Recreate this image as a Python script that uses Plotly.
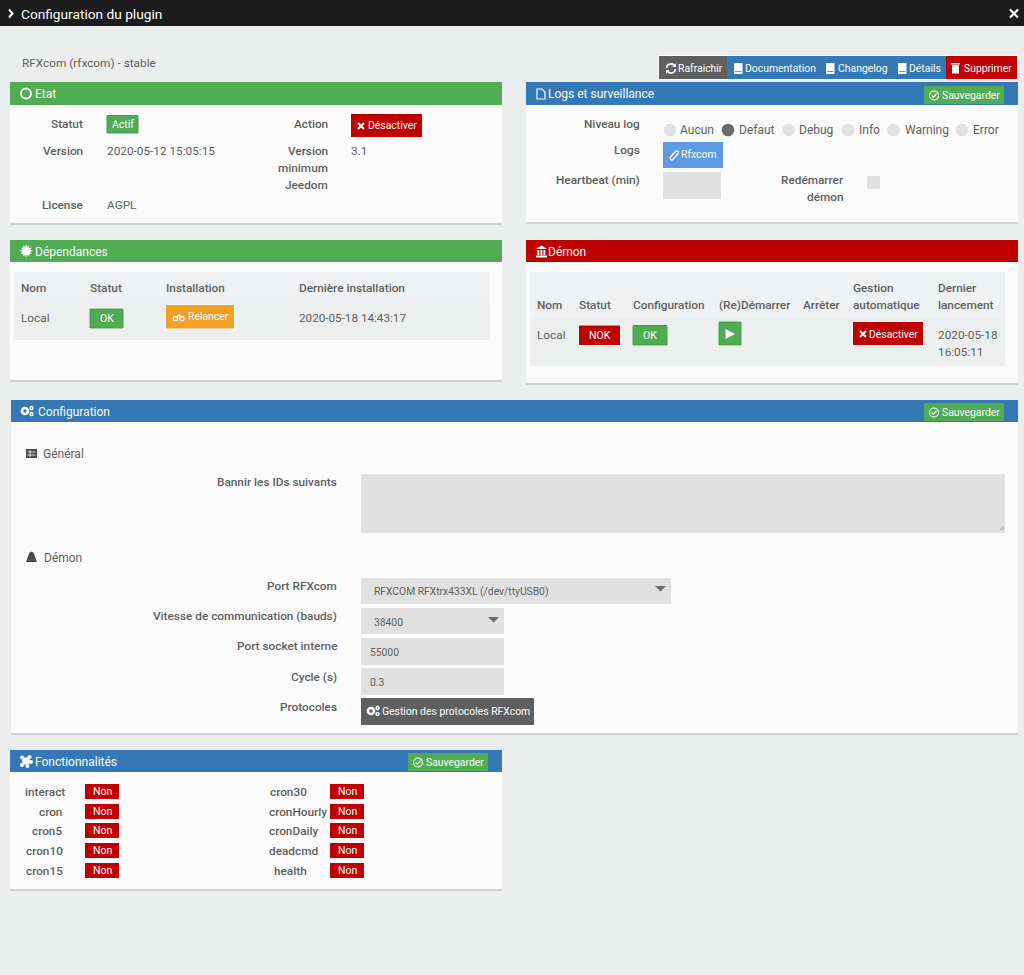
import plotly.graph_objects as go

# Textes de l'écran
PAGE_TITLE = "Configuration du plugin"
PLUGIN_NAME = "RFXcom (rfxcom) - stable"
TOOLBAR = ["Rafraichir", "Documentation", "Changelog", "Détails", "Supprimer"]
PANELS = ["Etat", "Logs et surveillance", "Dépendances", "Démon", "Configuration", "Fonctionnalités"]
SAVE = "Sauvegarder"
DISABLE = "Désactiver"
ETAT_VERSION = "2020-05-12 15:05:15"
ETAT_MIN_VERSION = "3.1"
ETAT_LICENSE = "AGPL"
LOG_LEVELS = ["Aucun", "Defaut", "Debug", "Info", "Warning", "Error"]
DEP_HEADERS = ["Nom", "Statut", "Installation", "Dernière installation"]
DEP_DATE = "2020-05-18 14:43:17"
DEMON_HEADERS = ["Nom", "Statut", "Configuration", "(Re)Démarrer", "Arrêter"]
DEMON_DATE = ["2020-05-18", "16:05:11"]
FORM_LABELS = ["Port RFXcom", "Vitesse de communication (bauds)", "Port socket interne", "Cycle (s)", "Protocoles"]
PORT_VALUE = "RFXCOM RFXtrx433XL (/dev/ttyUSB0)"
BAUD_VALUE = "38400"
SOCKET_VALUE = "55000"
CYCLE_VALUE = "0.3"
FEATURES_LEFT = ["interact", "cron", "cron5", "cron10", "cron15"]
FEATURES_RIGHT = ["cron30", "cronHourly", "cronDaily", "deadcmd", "health"]

# Couleurs
BG = "#eceeee"
PANEL = "#fbfbfb"
GREEN = "#50ac53"
GREEN_DARK = "#3f9e44"
BLUE = "#3479b6"
RED = "#c00000"
GREY = "#5f5f5f"
ORANGE = "#f2a026"
FIELD = "#e0e1e0"
SKY = "#5e9ae2"
TEXT = "#5f5f5f"
WHITE = "#ffffff"

shapes = []
notes = []


def rect(x0, y0, x1, y1, color, border=None):
    line = dict(color=border, width=1) if border else dict(width=0)
    shapes.append(dict(type="rect", x0=x0, y0=y0, x1=x1, y1=y1, fillcolor=color, line=line))


def path(d, fill=None, stroke=None, width=1.5):
    line = dict(color=stroke, width=width) if stroke else dict(width=0)
    shapes.append(dict(type="path", path=d, fillcolor=fill or "rgba(0,0,0,0)", line=line))


def circle(cx, cy, r, fill=None, stroke=None, width=1.5):
    line = dict(color=stroke, width=width) if stroke else dict(width=0)
    shapes.append(dict(type="circle", x0=cx - r, y0=cy - r, x1=cx + r, y1=cy + r,
                       fillcolor=fill or "rgba(0,0,0,0)", line=line))


def text(x, y, s, size=11.8, color=TEXT, bold=False, anchor="left", family="Roboto"):
    shift = {"left": -1, "right": 1, "center": 0}[anchor]
    notes.append(dict(x=x, y=y, text=s, showarrow=False, xanchor=anchor, yanchor="middle",
                      xshift=shift, yshift=0.5, borderpad=0,
                      font=dict(family=family, size=size, color=color, weight=500 if bold else 400)))


def cross(cx, cy, color=WHITE):
    path(f"M{cx-3},{cy-3} L{cx+3},{cy+3} M{cx-3},{cy+3} L{cx+3},{cy-3}", stroke=color, width=2)


def check_circle(cx, cy):
    circle(cx, cy, 4.5, stroke=WHITE, width=1.2)
    path(f"M{cx-2.2},{cy} L{cx-0.5},{cy+1.8} L{cx+2.4},{cy-1.8}", stroke=WHITE, width=1.2)


def sheet(x, y, w=8.5, h=11):
    rect(x, y, x + w, y + h, WHITE)
    path(f"M{x+1},{y+h-2.5} L{x+w-1},{y+h-2.5}", stroke=BLUE, width=0.8)


def gears(x, y, color=WHITE):
    circle(x + 4.5, y + 5.5, 3, stroke=color, width=2.6)
    circle(x + 11, y + 2.5, 1.5, stroke=color, width=1.4)
    circle(x + 11, y + 8.5, 1.5, stroke=color, width=1.4)


def button(x0, y0, x1, y1, color, label, tx, ty, size=10.4):
    rect(x0 - 1, y0 - 1, x1 + 1, y1 + 1, WHITE)
    rect(x0, y0, x1, y1, color)
    text(tx, ty, label, size=size, color=WHITE)


def save_button(x0, y0):
    rect(x0, y0, x0 + 80, y0 + 18, GREEN)
    check_circle(x0 + 10, y0 + 9.5)
    text(x0 + 18, y0 + 9.5, SAVE, size=10.4, color=WHITE)


def badge(x0, y0, x1, y1, color, border, label, size=10.5):
    rect(x0 - 1, y0 - 1, x1 + 1, y1 + 1, WHITE)
    rect(x0, y0, x1, y1, color, border)
    text((x0 + x1) / 2, (y0 + y1) / 2 + 0.5, label, size=size, color=WHITE, anchor="center")


def panel(x0, y0, x1, y1, head_bottom, color, title, title_x):
    rect(x0, y1, x1, y1 + 2, "#cfd1d1")
    rect(x0, y0, x1, y1, PANEL)
    rect(x0, y0, x1, head_bottom, color)
    text(title_x, (y0 + head_bottom) / 2 + 1, title, size=12, color=WHITE)


# Fond et barre du haut
rect(0, 0, 1024, 975, BG)
rect(0, 0, 1024, 26, "#1c1c1c")
path("M9,9.5 L12.5,13.5 L9,17.5", stroke=WHITE, width=2)
text(21, 14, PAGE_TITLE, size=13.7, color=WHITE)
path("M1010,9.5 L1018,17.5 M1010,17.5 L1018,9.5", stroke=WHITE, width=2.2)
text(22, 63, PLUGIN_NAME)

# Barre d'outils
rect(658, 55, 1018, 80, WHITE)
rect(659, 56, 727, 79, GREY)
rect(727, 56, 946, 79, BLUE)
rect(946, 56, 1017, 79, RED)
for label, tx in zip(TOOLBAR, [678, 745, 838, 909, 964]):
    text(tx, 68.5, label, size=10.4, color=WHITE)
path("M666.5,68 C667,63.5 672.5,62.5 675,66 M675.5,69 C675,73.5 669.5,74.5 667,71", stroke=WHITE, width=1.6)
path("M676,63 L676,67 L672.5,67 Z M666,74 L666,70 L669.5,70 Z", fill=WHITE)
for ix in [734, 826, 898]:
    sheet(ix, 63)
rect(952, 65, 959, 73.5, WHITE)
rect(951, 63, 960, 64.5, WHITE)

# Etat
panel(10, 82, 502, 223, 105, GREEN, PANELS[0], 35)
circle(26, 93.5, 5, stroke=WHITE, width=1.8)
for label, ty in zip(["Statut", "Version", "License"], [124, 151, 205]):
    text(83, ty, label, bold=True, anchor="right")
badge(107, 115.5, 138, 133, GREEN, GREEN_DARK, "Actif")
text(107, 151, ETAT_VERSION)
text(107, 205, ETAT_LICENSE)
for label, ty in zip(["Action", "Version", "minimum", "Jeedom"], [124, 151, 168, 185]):
    text(328, ty, label, bold=True, anchor="right")
button(351, 114, 422, 137, RED, DISABLE, 368, 126)
cross(361, 126)
text(351, 151, ETAT_MIN_VERSION)

# Logs
panel(526, 82, 1018, 222, 105, BLUE, PANELS[1], 548)
path("M537,89 L542,89 L545,92 L545,99 L537,99 Z", stroke=WHITE, width=1.2)
save_button(924, 86)
text(640, 124, "Niveau log", bold=True, anchor="right")
for label, cx, tx in zip(LOG_LEVELS, [670, 728, 788.5, 848, 893.5, 962], [680, 739, 799, 858.5, 904.5, 973]):
    circle(cx, 130, 6.3, fill="#6b6b6b" if label == "Defaut" else FIELD)
    text(tx, 130, label, size=12)
text(640, 150, "Logs", bold=True, anchor="right")
rect(663, 142, 723, 168, SKY)
text(681, 155, "Rfxcom", size=10.4, color=WHITE)
path("M670.5,157 L675.5,151.5 C677,150 679.5,152 678,153.5 L673,159.5 C671.5,161 669,158.5 670.5,157 Z",
     stroke=WHITE, width=1.3)
text(640, 180, "Heartbeat (min)", bold=True, anchor="right")
rect(663, 172, 721, 199, FIELD)
text(844, 180, "Redémarrer", bold=True, anchor="right")
text(844, 197, "démon", bold=True, anchor="right")
rect(867, 176, 880, 189, FIELD)

# Dépendances
panel(10, 240, 502, 380, 262, GREEN, PANELS[2], 35)
text(26, 251, "✹", size=17, color=WHITE, anchor="center", family="DejaVu Sans")
rect(14, 272, 490, 303, "#f0f1f2")
rect(14, 303, 490, 340, "#edeeee")
for label, tx in zip(DEP_HEADERS, [21, 90, 166, 299]):
    text(tx, 288, label, bold=True)
text(21, 318.5, "Local")
badge(90, 309, 123, 328, GREEN, GREEN_DARK, "OK")
button(166, 305, 234, 328.5, ORANGE, "Relancer", 188, 317)
circle(175.5, 318.5, 2.2, stroke=WHITE, width=1.3)
circle(182, 318.5, 2.2, stroke=WHITE, width=1.3)
path("M175.5,318 L179,315 L182,318", stroke=WHITE, width=1.2)
text(299, 318.5, DEP_DATE, size=11.7)

# Démon
panel(526, 240, 1018, 383, 262, RED, PANELS[3], 548)
path("M536,249 L541.5,245.5 L547,249 Z", fill=WHITE)
for bx in [537.5, 540.5, 543.5]:
    rect(bx, 250, bx + 1.8, 255, WHITE)
rect(536, 255.5, 547, 257.5, WHITE)
rect(530, 272, 1005, 318, "#f0f1f2")
rect(530, 318, 1005, 366, "#edeeee")
for label, tx in zip(DEMON_HEADERS, [537, 579, 633, 719, 803]):
    text(tx, 305, label, bold=True)
text(853, 288, "Gestion", bold=True)
text(853, 305, "automatique", bold=True)
text(938, 288, "Dernier", bold=True)
text(938, 305, "lancement", bold=True)
text(537, 335.5, "Local")
badge(579, 325.5, 620, 345, RED, None, "NOK")
badge(633, 325.5, 667, 345, GREEN, GREEN_DARK, "OK")
badge(719, 322, 741, 345, GREEN, GREEN_DARK, "")
path("M725.5,329 L735,334 L725.5,339 Z", fill=WHITE)
button(853, 322, 923, 345, RED, DISABLE, 869, 334.5)
cross(863, 334)
text(938, 335.5, DEMON_DATE[0])
text(938, 352, DEMON_DATE[1])

# Configuration
panel(11, 400, 1018, 733, 422, BLUE, PANELS[4], 38)
gears(20.5, 405.5)
save_button(924, 403)
rect(26, 449, 37, 458, "#4a4a4a")
path("M27.5,452 L35.5,452 M27.5,455 L35.5,455 M30,450 L30,457", stroke=PANEL, width=0.8)
text(43, 454, "Général", size=12)
text(337, 482, "Bannir les IDs suivants", bold=True, anchor="right")
rect(361, 474, 1005, 533, FIELD)
path("M1000,530 L1004,526 M1002,530 L1004,528", stroke="#999999", width=0.8)
path("M26,562 L28.5,555 C29.5,550.5 33.5,550.5 34.5,555 L37,562 Z", fill="#4a4a4a")
text(43.5, 558, "Démon", size=12)
for label, ty in zip(FORM_LABELS, [586, 616, 646, 677, 707]):
    text(337, ty, label, bold=True, anchor="right")
rect(361, 578, 671, 604, FIELD)
text(374, 591.5, PORT_VALUE, size=10.3)
path("M655,586 L666,586 L660.5,591.5 Z", fill="#6b6b6b")
rect(361, 608, 504, 634, FIELD)
text(374, 622.5, BAUD_VALUE, size=10.3)
path("M488,617 L499,617 L493.5,622.5 Z", fill="#6b6b6b")
rect(361, 638, 504, 665, FIELD)
text(370, 652.5, SOCKET_VALUE, size=10.3)
rect(361, 668, 504, 695, FIELD)
text(370, 682.5, CYCLE_VALUE, size=10.3)
button(361, 698, 534, 725, GREY, "Gestion des protocoles RFXcom", 382, 711.5)
gears(366.5, 705.5)

# Fonctionnalités
panel(10, 750, 502, 889, 772, BLUE, PANELS[5], 35)
circle(26, 761, 3.8, fill=WHITE)
for bx, by in [(22, 757.5), (29.5, 757), (31, 762), (22, 765), (27.5, 766)]:
    circle(bx, by, 2, fill=WHITE)
save_button(408, 753)
ROWS = [(784, 799), (804, 819), (823, 838), (843, 858), (863, 878)]
for label, lx, (y0, y1) in zip(FEATURES_LEFT, [24.5, 39, 32, 25.5, 25.5], ROWS):
    text(lx, (y0 + y1) / 2 + 1, label, bold=True)
    badge(85, y0, 119, y1, RED, None, "Non")
for label, lx, (y0, y1) in zip(FEATURES_RIGHT, [270, 269, 269, 269, 274], ROWS):
    text(lx, (y0 + y1) / 2 + 1, label, bold=True)
    badge(330, y0, 364, y1, RED, None, "Non")

fig = go.Figure()
fig.update_layout(
    width=1024,
    height=975,
    margin=dict(l=0, r=0, t=0, b=0),
    paper_bgcolor=BG,
    plot_bgcolor=BG,
    showlegend=False,
    xaxis=dict(range=[0, 1024], visible=False, fixedrange=True),
    yaxis=dict(range=[975, 0], visible=False, fixedrange=True),
    shapes=shapes,
    annotations=notes,
)
fig.write_html("out.html", config=dict(displayModeBar=False),
               post_script="document.body.style.margin='0';document.body.style.overflow='hidden';")
